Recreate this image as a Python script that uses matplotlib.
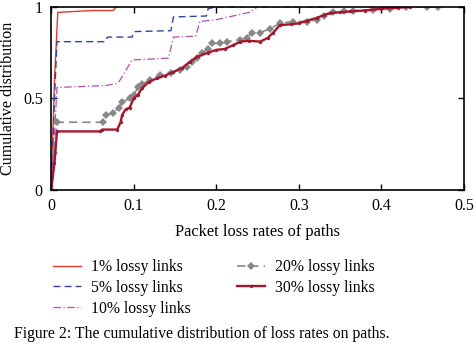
"""Cumulative distribution of packet loss rates on paths for several
fractions of lossy links (values read off the published figure).
"""

import matplotlib

matplotlib.use("Agg")
import matplotlib.pyplot as plt

# ── Data ─────────────────────────────────────────────────────────────
labels = ["1% lossy links", "5% lossy links", "10% lossy links",
          "20% lossy links", "30% lossy links"]

loss_1 = [0, 0.004, 0.008, 0.05, 0.075, 0.078, 0.08]
cdf_1 = [0, 0.6, 0.97, 0.98, 0.98, 0.995, 1.0]

loss_5 = [0, 0.004, 0.007, 0.066, 0.068, 0.098, 0.1, 0.145, 0.148,
          0.188, 0.19, 0.2, 0.33]
cdf_5 = [0, 0.5, 0.81, 0.81, 0.835, 0.835, 0.865, 0.87, 0.945,
         0.95, 0.99, 1.0, 1.0]

loss_10 = [0, 0.004, 0.007, 0.065, 0.078, 0.082, 0.09, 0.098, 0.142,
           0.148, 0.175, 0.18, 0.2, 0.22, 0.24, 0.25]
cdf_10 = [0, 0.3, 0.56, 0.57, 0.58, 0.59, 0.65, 0.71, 0.72,
          0.835, 0.84, 0.92, 0.93, 0.95, 0.97, 1.0]

loss_20 = [0, 0.004, 0.007, 0.063, 0.066, 0.075, 0.082, 0.086, 0.095,
           0.1, 0.105, 0.11, 0.12, 0.132, 0.145, 0.156, 0.165, 0.17,
           0.177, 0.183, 0.19, 0.195, 0.205, 0.213, 0.229, 0.237, 0.243,
           0.253, 0.265, 0.277, 0.293, 0.31, 0.322, 0.33, 0.341, 0.355,
           0.366, 0.39, 0.41, 0.43, 0.455, 0.468]
cdf_20 = [0, 0.2, 0.37, 0.37, 0.41, 0.42, 0.45, 0.48, 0.50,
          0.52, 0.56, 0.58, 0.60, 0.63, 0.64, 0.655, 0.67, 0.70,
          0.72, 0.75, 0.77, 0.80, 0.80, 0.81, 0.82, 0.83, 0.86,
          0.86, 0.88, 0.91, 0.92, 0.92, 0.93, 0.95, 0.97, 0.975,
          0.98, 0.985, 0.99, 1.0, 1.0, 1.0]

loss_30 = [0, 0.004, 0.007, 0.059, 0.062, 0.08, 0.084, 0.086, 0.09,
           0.095, 0.1, 0.105, 0.11, 0.118, 0.128, 0.138, 0.148, 0.158,
           0.168, 0.178, 0.19, 0.2, 0.21, 0.22, 0.229, 0.24, 0.253,
           0.262, 0.269, 0.277, 0.29, 0.3, 0.31, 0.322, 0.33, 0.338,
           0.35, 0.362, 0.38, 0.4, 0.42, 0.435]
cdf_30 = [0, 0.15, 0.32, 0.32, 0.33, 0.33, 0.37, 0.41, 0.44,
          0.45, 0.50, 0.52, 0.555, 0.59, 0.61, 0.625, 0.645, 0.665,
          0.70, 0.73, 0.75, 0.765, 0.77, 0.79, 0.81, 0.815, 0.81,
          0.83, 0.86, 0.90, 0.905, 0.91, 0.925, 0.94, 0.955, 0.967,
          0.97, 0.975, 0.98, 0.99, 0.995, 1.0]

x_ticks = [0, 0.1, 0.2, 0.3, 0.4, 0.5]
x_tick_labels = ["0", "0.1", "0.2", "0.3", "0.4", "0.5"]
y_ticks = [0, 0.5, 1]
y_tick_labels = ["0", "0.5", "1"]

# ── Figure ───────────────────────────────────────────────────────────
plt.rcParams["font.family"] = ["Liberation Serif", "DejaVu Serif"]
plt.rcParams["font.size"] = 11

fig = plt.figure(figsize=(4.74, 3.43), dpi=100)
ax = fig.add_axes([0.108, 0.446, 0.871, 0.534])

ax.plot(loss_1, cdf_1, color="#e23a2e", linewidth=1.0, label=labels[0])
ax.plot(loss_5, cdf_5, color="#33449a", linewidth=1.0,
        linestyle=(0, (5, 3)), label=labels[1])
ax.plot(loss_10, cdf_10, color="#b24fb2", linewidth=0.9,
        linestyle=(0, (6, 2, 1, 2)), label=labels[2])
ax.plot(loss_20, cdf_20, color="#888888", linewidth=1.2,
        linestyle=(0, (5, 3)), marker="D", markersize=3.8,
        markeredgewidth=0, label=labels[3])
ax.plot(loss_30, cdf_30, color="#a3182f", linewidth=1.7,
        marker="o", markersize=2.4, markeredgewidth=0, label=labels[4])

ax.set_xlim(0, 0.5)
ax.set_ylim(0, 1)
ax.set_xticks(x_ticks)
ax.set_xticklabels(x_tick_labels)
ax.set_yticks(y_ticks)
ax.set_yticklabels(y_tick_labels)
ax.tick_params(direction="in", top=True, right=True, length=4, width=1,
               labelsize=11.5, pad=6)
for spine in ax.spines.values():
    spine.set_linewidth(1.2)

ax.set_xlabel("Packet loss rates of paths", fontsize=11.8, labelpad=7)
ax.set_ylabel("Cumulative distribution", fontsize=11.6, labelpad=5)

fig.legend(loc="upper left", bbox_to_anchor=(0.082, 1 - 245 / 343),
           ncol=2, frameon=False, fontsize=11.3, handlelength=1.8,
           handletextpad=0.65, columnspacing=2.9, labelspacing=0.3)

# caption, sitting on the bottom edge as in the source scan
fig.text(0.03, 0.004,
         "Figure 2: The cumulative distribution of loss rates on paths.",
         fontsize=11.3, va="bottom", ha="left")

fig.savefig("out.png", dpi=100)
plt.close(fig)
